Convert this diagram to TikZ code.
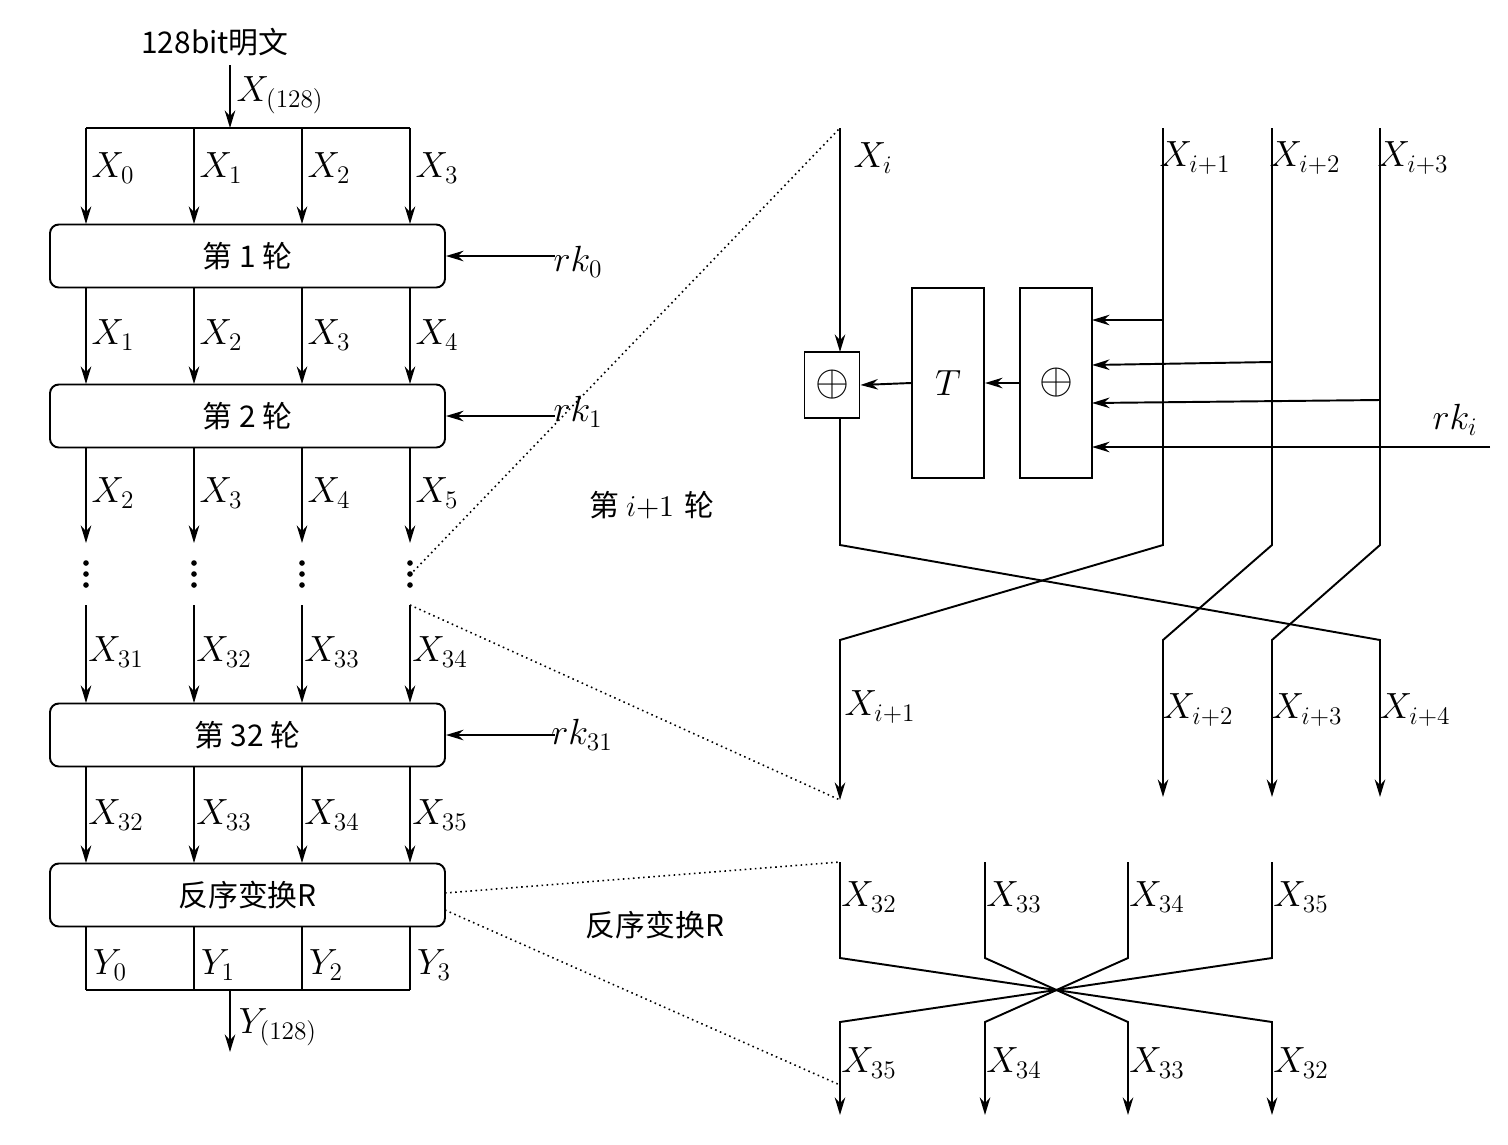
\documentclass[tikz,border=0pt]{standalone}
\usepackage{fontspec}
\newfontfamily\cjk{Noto Sans CJK SC}
\usetikzlibrary{arrows.meta}
\begin{document}
\begin{tikzpicture}[x=0.02cm,y=-0.02cm,line width=1.1pt,
  ar/.style={-{Stealth[length=10pt,width=6pt]}},
  lb/.style={font=\fontsize{22}{24}\selectfont,inner sep=0pt},
  ct/.style={font=\cjk\fontsize{17}{20}\selectfont,inner sep=0pt},
  rb/.style={draw,rounded corners=5pt,minimum width=395*0.02cm,minimum height=63*0.02cm,inner sep=0pt,font=\cjk\fontsize{17}{20}\selectfont},
  bx/.style={draw,inner sep=0pt},
  dt/.style={dotted,line width=0.9pt}]
\useasboundingbox (0,0) rectangle (1508,1144);
% top
\node[ct] (pt) at (215,42) {128bit明文};
\coordinate (t0) at (230,65); \coordinate (t1) at (230,128);
\draw[ar] (t0) -- (t1);
\node[lb] at (280,95) {$X_{(128)}$};
\draw (86,128) -- (410,128);
\node[rb] (b1) at (247.5,256) {第 1 轮};
\node[rb] (b2) at (247.5,416) {第 2 轮};
\node[rb] (b32) at (247.5,735) {第 32 轮};
\node[rb] (bR) at (247.5,895) {反序变换R};
\foreach \x/\i in {86/0,194/1,302/2,410/3}{
  \draw[ar] (\x,128) -- (\x,224);
  \draw[ar] (\x,288) -- (\x,384);
  \draw[ar] (\x,448) -- (\x,543);
  \foreach \yy in {563,574,585} \fill (\x,\yy) circle (1.6pt);
  \draw[ar] (\x,605) -- (\x,703);
  \draw[ar] (\x,767) -- (\x,863);
  \draw (\x,927) -- (\x,990);
}
\foreach \x/\a/\b/\c/\d/\e/\f in {86/0/1/2/31/32/0,194/1/2/3/32/33/1,302/2/3/4/33/34/2,410/3/4/5/34/35/3}{
  \node[lb] at (\x+27,168) {$X_{\a}$};
  \node[lb] at (\x+27,335) {$X_{\b}$};
  \node[lb] at (\x+27,493) {$X_{\c}$};
  \node[lb] at (\x+30,652) {$X_{\d}$};
  \node[lb] at (\x+30,815) {$X_{\e}$};
  \node[lb] at (\x+24,965) {$Y_{\f}$};
}
\draw (86,990) -- (410,990);
\draw[ar] (230,990) -- (230,1052);
\node[lb] at (278,1027) {$Y_{(128)}$};
\draw[ar] (555,256) -- (b1.east);
\node[lb] at (578,262) {$rk_0$};
\draw[ar] (555,416) -- (b2.east);
\node[lb] at (578,412) {$rk_1$};
\draw[ar] (555,735) -- (b32.east);
\node[lb] at (582,735) {$rk_{31}$};
% dotted zoom lines
\draw[dt] (410,575) -- (840,128);
\draw[dt] (410,605) -- (840,800);
\draw[dt] (445,893) -- (840,862);
\draw[dt] (445,910) -- (840,1085);
\node[ct] at (652,505) {第 \fontspec{Latin Modern Math}$i$+1 \cjk 轮};
\node[ct] at (655,925) {反序变换R};
% round detail
\node[bx,minimum width=55*0.02cm,minimum height=66*0.02cm] (x1) at (832,385) {\fontsize{32}{34}\selectfont$\oplus$};
\node[bx,minimum width=72*0.02cm,minimum height=190*0.02cm] (T) at (948,383) {\fontsize{22}{24}\selectfont$T$};
\node[bx,minimum width=72*0.02cm,minimum height=190*0.02cm] (x2) at (1056,383) {\fontsize{32}{34}\selectfont$\oplus$};
\draw[ar] (840,128) -- (840,352);
\draw[ar] (T.west) -- (x1.east);
\draw[ar] (x2.west) -- (T.east);
\draw[ar] (1163,320) -- (1092,320);
\draw[ar] (1272,362) -- (1092,365);
\draw[ar] (1380,400) -- (1092,403);
\draw[ar] (1490,447) -- (1092,447);
\node[lb] at (1455,420) {$rk_i$};
\node[lb] at (873,158) {$X_i$};
\node[lb] at (1195,158) {$X_{i+1}$};
\node[lb] at (1305,158) {$X_{i+2}$};
\node[lb] at (1413,158) {$X_{i+3}$};
\draw[ar] (840,418) -- (840,545) -- (1380,640) -- (1380,797);
\draw[ar] (1163,128) -- (1163,545) -- (840,640) -- (840,800);
\draw[ar] (1272,128) -- (1272,545) -- (1163,640) -- (1163,797);
\draw[ar] (1380,128) -- (1380,545) -- (1272,640) -- (1272,797);
\node[lb] at (880,707) {$X_{i+1}$};
\node[lb] at (1198,710) {$X_{i+2}$};
\node[lb] at (1307,710) {$X_{i+3}$};
\node[lb] at (1415,710) {$X_{i+4}$};
% reverse detail
\draw[ar] (840,862) -- (840,958) -- (1272,1022) -- (1272,1115);
\draw[ar] (985,862) -- (985,958) -- (1128,1022) -- (1128,1115);
\draw[ar] (1128,862) -- (1128,958) -- (985,1022) -- (985,1115);
\draw[ar] (1272,862) -- (1272,958) -- (840,1022) -- (840,1115);
\foreach \x/\a/\b in {840/32/35,985/33/34,1128/34/33,1272/35/32}{
  \node[lb] at (\x+29,897) {$X_{\a}$};
  \node[lb] at (\x+29,1063) {$X_{\b}$};
}
\end{tikzpicture}
\end{document}
